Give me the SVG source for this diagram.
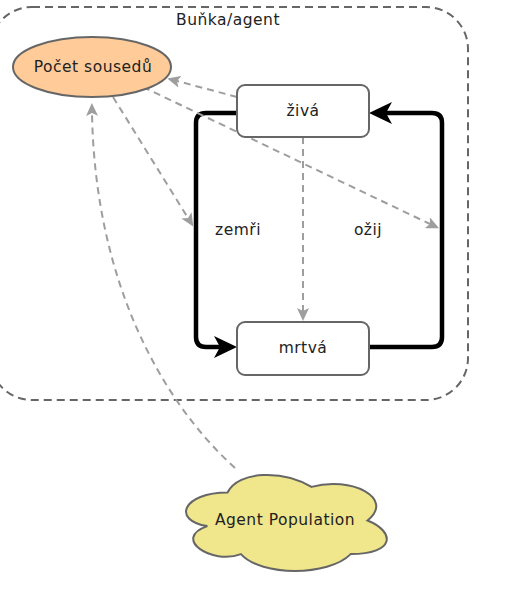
<svg xmlns="http://www.w3.org/2000/svg" width="512" height="600" viewBox="0 0 512 600">
<style>
text{font-family:"DejaVu Sans","Noto Sans",sans-serif;font-size:15.5px;fill:#222;text-anchor:middle;dominant-baseline:central;letter-spacing:0.5px}
.node{stroke:#666;stroke-width:2}
.dash{fill:none;stroke:#9e9e9e;stroke-width:2;stroke-dasharray:7 5}
.thick{fill:none;stroke:#000;stroke-width:4.5;stroke-linejoin:round}
</style>
<defs>
<marker id="ga" markerUnits="userSpaceOnUse" markerWidth="14" markerHeight="12" viewBox="0 0 14 12" refX="3" refY="6" orient="auto">
<path d="M0,0 L13,6 L0,12 L3,6 Z" fill="#9e9e9e"/>
</marker>
<marker id="ba" markerUnits="userSpaceOnUse" markerWidth="24" markerHeight="22" viewBox="0 0 24 22" refX="6" refY="11" orient="auto">
<path d="M0,0 L23,11 L0,22 L6,11 Z" fill="#000"/>
</marker>
</defs>
<g id="container">
<rect x="-10" y="7" width="478" height="393" rx="42" fill="none" stroke="#666" stroke-width="2" stroke-dasharray="8 5"/>
<text x="228" y="20">Buňka/agent</text>
</g>
<g id="connectors">
<path class="thick" d="M237,113 L206,113 Q196,113 196,123 L196,337 Q196,347 206,347 L220,347" marker-end="url(#ba)"/>
<path class="thick" d="M369,347 L432,347 Q442,347 442,337 L442,123 Q442,113 432,113 L386,113" marker-end="url(#ba)"/>
<path class="dash" d="M237,97 L177,81" marker-end="url(#ga)"/>
<path class="dash" d="M143,87 L430,224" marker-end="url(#ga)"/>
<path class="dash" d="M113,97 L188,218" marker-end="url(#ga)"/>
<path class="dash" d="M303,137 L303,311" marker-end="url(#ga)"/>
<path class="dash" d="M235,468 C160,400 95,280 92,113" marker-end="url(#ga)"/>
<text x="238" y="230">zemři</text>
<text x="368" y="230">ožij</text>
</g>
<g id="pocet">
<ellipse class="node" cx="92" cy="67" rx="79" ry="30" fill="#FFCC99"/>
<text x="93" y="67">Počet sousedů</text>
</g>
<g id="ziva">
<rect class="node" x="237" y="85" width="132" height="52" rx="8" fill="#fff"/>
<text x="303" y="111">živá</text>
</g>
<g id="mrtva">
<rect class="node" x="237" y="322" width="132" height="53" rx="8" fill="#fff"/>
<text x="303" y="348">mrtvá</text>
</g>
<g id="population">
<path class="node" fill="#F0E68C" d="M227.5,492.5 C182.7,492.5 171.5,520.5 207.34,526.1 C171.5,538.42 211.82,565.3 240.94,554.1 C261.1,576.5 328.3,576.5 350.7,554.1 C395.5,554.1 395.5,531.7 367.5,520.5 C395.5,498.1 350.7,475.7 311.5,486.9 C283.5,470.1 238.7,470.1 227.5,492.5 Z"/>
<text x="285" y="520">Agent Population</text>
</g>
</svg>
